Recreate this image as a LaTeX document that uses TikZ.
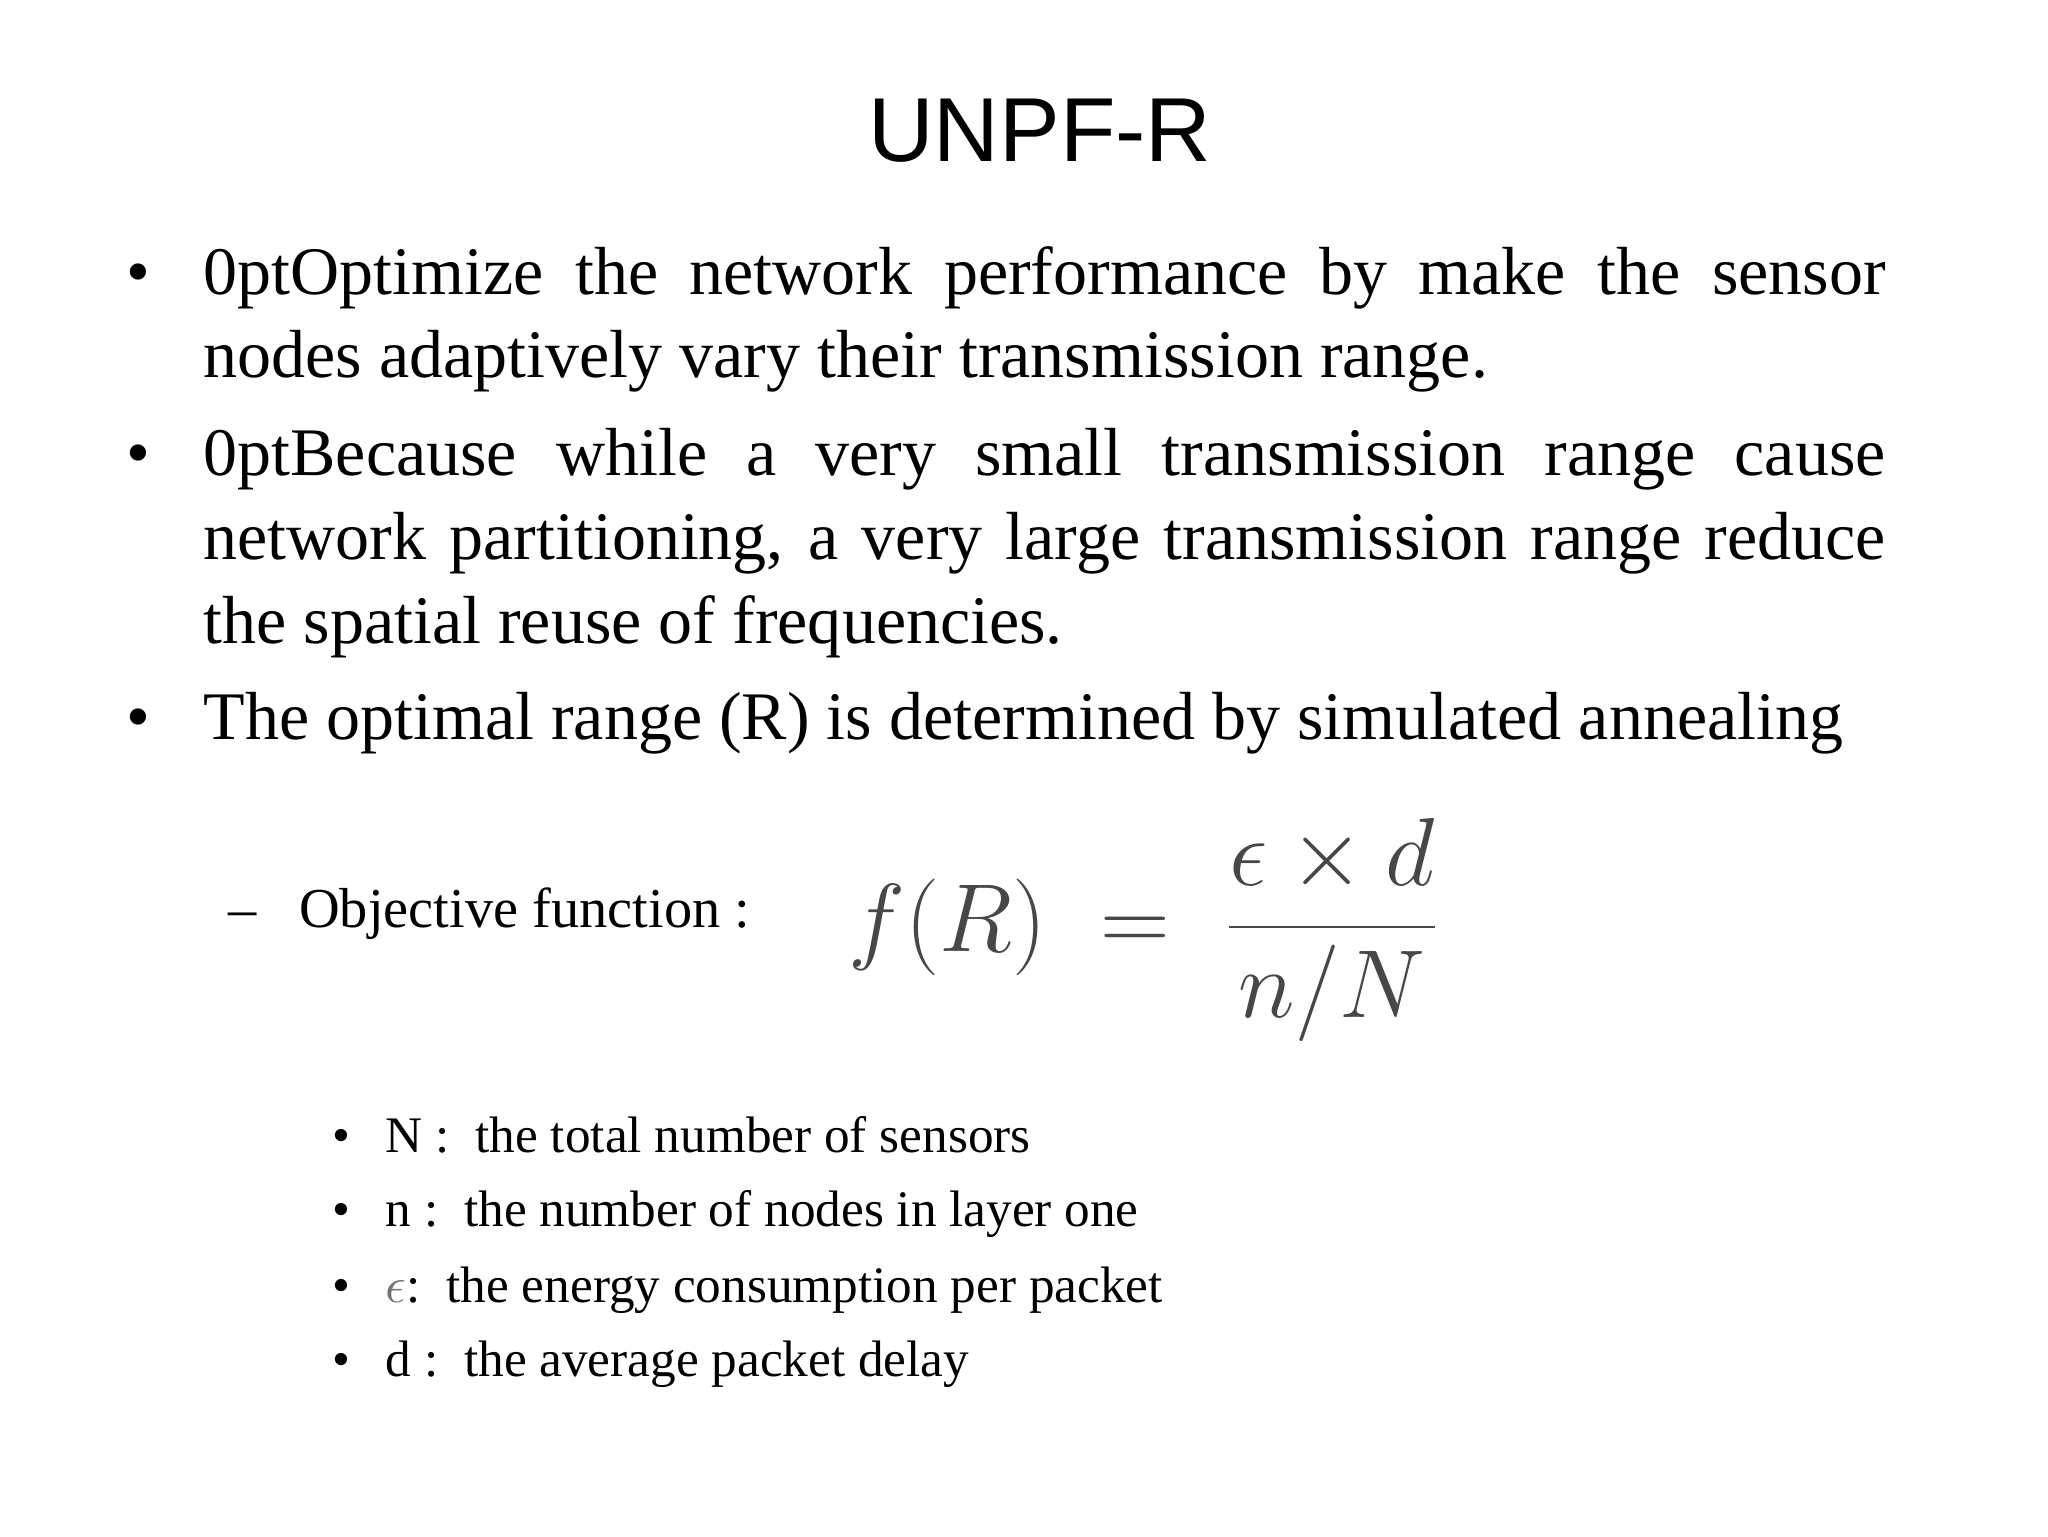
\documentclass[tikz,border=0pt]{standalone}
\usepackage{fontspec}
\setmainfont{Liberation Serif}
\newfontfamily\titlefont{Liberation Sans}
\begin{document}
\begin{tikzpicture}[x=0.01cm,y=-0.01cm,
  para/.style={anchor=base west,inner sep=0pt,text width=12.69cm,align=justify,font=\fontsize{14.6}{18}\selectfont\hyphenpenalty=10000\relax},
  blt/.style={anchor=base west,inner sep=0pt,font=\fontsize{14.6}{18}\selectfont},
  item/.style={anchor=base west,inner sep=0pt,font=\fontsize{11}{13}\selectfont}]
\useasboundingbox[fill=white] (0,0) rectangle (1546,1160);
\node[anchor=base,inner sep=0pt,font=\titlefont\fontsize{19.5}{22}\selectfont] (title) at (785,122) {UNPF-R};
\node[blt] (b1) at (95,222) {•};
\node[para] (p1) at (153,222) {Optimize the network performance by make the sensor\linebreak nodes adaptively vary their transmission range.};
\node[blt] (b2) at (95,359) {•};
\node[para] (p2) at (153,359) {Because while a very small transmission range cause\linebreak network partitioning, a very large transmission range reduce\linebreak the spatial reuse of frequencies.};
\node[blt] (b3) at (95,558) {•};
\node[blt] (p3) at (153,558) {The optimal range (R) is determined by simulated annealing};
\node[anchor=base west,inner sep=0pt,font=\fontsize{12.1}{15}\selectfont] (obj) at (172,700) {–\hspace{0.75em}Objective function :};
\node[anchor=base west,inner sep=0pt,text=black!72,font=\fontsize{20}{25}\selectfont] (eq) at (640,718) {$f(R)\;=\;{\displaystyle\frac{\epsilon\times d}{n/N}}$};
\node[item] (i1) at (250,870) {•\hspace{0.7em}N :\ \ the total number of sensors};
\node[item] (i2) at (250,926) {•\hspace{0.7em}n :\ \ the number of nodes in layer one};
\node[item] (i3) at (250,983) {•\hspace{0.7em}{\color{black!55}$\epsilon$}:\ \ the energy consumption per packet};
\node[item] (i4) at (250,1039) {•\hspace{0.7em}d :\ \ the average packet delay};
\end{tikzpicture}
\end{document}
